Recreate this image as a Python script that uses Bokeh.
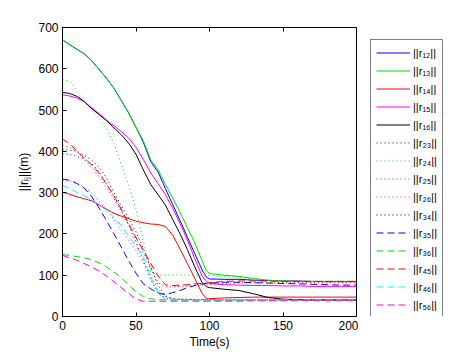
from bokeh.plotting import figure
from bokeh.models import Legend, LegendItem, FixedTicker, LinearAxis, Range1d
from bokeh.layouts import row
from bokeh.embed import file_html
from bokeh.resources import INLINE

# time grid (s)
t = [0, 5, 10, 15, 20, 25, 30, 35, 40, 45, 50, 55, 60, 65, 70, 75, 80, 85, 90, 95, 98, 100,
     110, 120, 130, 140, 150, 160, 170, 180, 190, 200]

r12 = [670, 658, 647, 636, 619, 598, 577, 553, 523, 493, 458, 422, 375, 350, 310, 271, 232, 192, 152, 113, 95, 91,
       90, 90, 88, 87, 86, 86, 85, 85, 85, 85]
r13 = [670, 658, 647, 636, 619, 598, 577, 553, 523, 493, 458, 425, 380, 355, 320, 287, 252, 215, 178, 135, 110, 104,
       100, 97, 92, 88, 86, 85, 85, 84, 84, 84]
r14 = [301, 296, 290, 285, 280, 270, 260, 250, 243, 237, 231, 227, 224, 223, 218, 197, 163, 128, 92, 56, 43, 43,
       45, 46, 47, 47, 47, 47, 47, 47, 47, 47]
r15 = [537, 534, 529, 520, 505, 491, 476, 462, 448, 432, 410, 380, 348, 322, 295, 262, 225, 185, 140, 98, 85, 80,
       77, 76, 75, 75, 74, 74, 73, 73, 73, 73]
r16 = [543, 540, 533, 520, 503, 489, 474, 457, 440, 420, 393, 355, 320, 295, 270, 235, 200, 162, 120, 82, 72, 70,
       66, 63, 55, 46, 42, 41, 40, 40, 40, 40]
r23 = [395, 392, 388, 380, 370, 350, 322, 292, 258, 222, 180, 135, 90, 55, 45, 42, 42, 41, 41, 41, 41, 41,
       40, 40, 40, 40, 40, 40, 40, 40, 40, 40]
r24 = [573, 570, 545, 520, 497, 478, 455, 420, 368, 318, 260, 184, 110, 100, 101, 101, 101, 100, 100, 99, 99, 99,
       97, 95, 90, 87, 86, 85, 85, 85, 85, 85]
r25 = [415, 410, 398, 380, 360, 338, 312, 285, 255, 222, 190, 155, 118, 82, 72, 72, 73, 74, 75, 76, 77, 78,
       80, 81, 82, 82, 82, 82, 82, 82, 82, 82]
r26 = [330, 328, 322, 312, 298, 280, 258, 235, 210, 185, 160, 130, 100, 65, 48, 42, 41, 41, 40, 40, 40, 40,
       40, 40, 40, 40, 40, 40, 40, 40, 40, 40]
r34 = [405, 403, 400, 390, 378, 362, 335, 300, 268, 238, 205, 165, 120, 75, 50, 43, 42, 42, 41, 41, 41, 41,
       40, 40, 40, 40, 40, 40, 40, 40, 40, 40]
r35 = [333, 330, 322, 310, 290, 262, 232, 200, 168, 135, 105, 79, 67, 57, 53, 58, 63, 70, 75, 79, 80, 81,
       83, 83, 82, 81, 80, 79, 78, 77, 76, 76]
r36 = [150, 148, 145, 142, 137, 130, 120, 108, 94, 76, 60, 48, 43, 41, 40, 40, 40, 40, 40, 40, 40, 40,
       40, 40, 40, 40, 40, 40, 40, 40, 40, 40]
r45 = [430, 418, 401, 383, 367, 347, 320, 292, 260, 225, 191, 160, 129, 98, 77, 75, 76, 77, 79, 80, 81, 82,
       85, 86, 86, 86, 85, 85, 85, 85, 85, 85]
r46 = [318, 310, 300, 292, 283, 270, 257, 240, 220, 195, 170, 145, 95, 58, 42, 40, 40, 40, 40, 40, 40, 40,
       40, 40, 40, 40, 40, 40, 40, 40, 40, 40]
r56 = [148, 142, 136, 128, 120, 110, 98, 84, 70, 56, 42, 37, 37, 37, 37, 37, 37, 37, 37, 37, 37, 37,
       37, 37, 38, 38, 38, 38, 38, 38, 38, 38]

x_ticks = [0, 50, 100, 150, 200]
y_ticks = [0, 100, 200, 300, 400, 500, 600, 700]

labels = ["||r₁₂||", "||r₁₃||", "||r₁₄||", "||r₁₅||", "||r₁₆||",
          "||r₂₃||", "||r₂₄||", "||r₂₅||", "||r₂₆||", "||r₃₄||",
          "||r₃₅||", "||r₃₆||", "||r₄₅||", "||r₄₆||", "||r₅₆||"]
series = [r12, r13, r14, r15, r16, r23, r24, r25, r26, r34, r35, r36, r45, r46, r56]
colors = ["#0000ff", "#00dd00", "#ff0000", "#ff00ff", "#000000",
          "#0000ff", "#00dd00", "#ff0000", "#ff00ff", "#000000",
          "#0000ff", "#00dd00", "#ff0000", "#00ffff", "#ff00ff"]
dashes = ["solid"] * 5 + ["1 3"] * 5 + ["7 4"] * 5

FONT = "Liberation Sans"

p = figure(frame_width=294, frame_height=289, output_backend="svg", toolbar_location=None,
           x_range=Range1d(0, 200), y_range=Range1d(0, 700),
           min_border_left=62, min_border_right=2, min_border_top=27, min_border_bottom=39)
p.background_fill_color = "white"
p.border_fill_color = "white"
p.outline_line_color = "black"
p.outline_line_width = 1
p.grid.visible = False

for ys, c, d in zip(series, colors, dashes):
    p.line(t, ys, line_color=c, line_width=1, line_dash=d)

for ax in (p.xaxis[0], p.yaxis[0]):
    ax.major_tick_in = 4
    ax.major_tick_out = 0
    ax.minor_tick_line_color = None
    ax.axis_line_color = "black"
    ax.major_label_text_font = FONT
    ax.major_label_text_font_size = "12px"
    ax.major_label_text_color = "black"
    ax.axis_label_text_font = FONT
    ax.axis_label_text_font_size = "12px"
    ax.axis_label_text_font_style = "normal"
    ax.axis_label_text_color = "black"

p.xaxis[0].ticker = FixedTicker(ticks=x_ticks)
p.yaxis[0].ticker = FixedTicker(ticks=y_ticks)
p.xaxis[0].axis_label = "Time(s)"
p.xaxis[0].axis_label_standoff = 2
p.xaxis[0].major_label_standoff = 4
p.yaxis[0].axis_label = "||rᵢⱼ||(m)"
p.yaxis[0].axis_label_standoff = 4
p.yaxis[0].major_label_standoff = 4

top_ax = LinearAxis(ticker=FixedTicker(ticks=x_ticks), major_tick_in=4, major_tick_out=0,
                    minor_tick_line_color=None, axis_line_color=None,
                    major_label_overrides={v: "" for v in x_ticks})
p.add_layout(top_ax, "above")

# legend panel as a separate figure; the same series are drawn there but out of view
lg = figure(width=116, height=355, output_backend="svg", toolbar_location=None,
            x_axis_location=None, y_axis_location=None,
            x_range=Range1d(1000, 1001), y_range=Range1d(1000, 1001),
            min_border_left=0, min_border_right=0, min_border_top=13, min_border_bottom=0)
lg.outline_line_color = None
lg.grid.visible = False
lg.background_fill_color = "white"
lg.border_fill_color = "white"
items = []
for lab, ys, c, d in zip(labels, series, colors, dashes):
    r = lg.line(t, ys, line_color=c, line_width=1, line_dash=d)
    items.append(LegendItem(label=lab, renderers=[r]))

legend = Legend(items=items, location="top_left")
legend.label_text_font = FONT
legend.label_text_font_size = "11px"
legend.label_text_color = "black"
legend.glyph_width = 34
legend.glyph_height = 15
legend.label_height = 15
legend.spacing = 3
legend.padding = 5
legend.margin = 12
legend.label_standoff = 3
legend.border_line_color = "black"
legend.border_line_width = 1
legend.background_fill_color = "white"
legend.background_fill_alpha = 1
lg.add_layout(legend)

layout = row(p, lg)
open("out.html", "w").write(file_html(layout, INLINE))
